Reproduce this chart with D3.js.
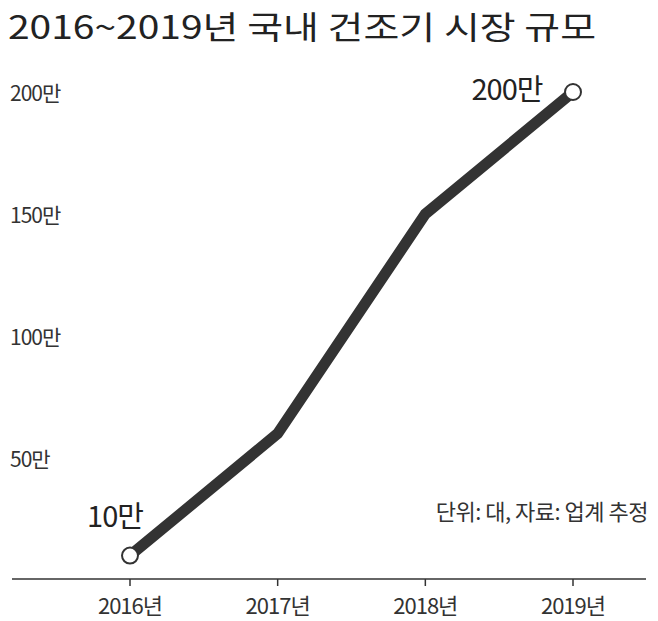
<!DOCTYPE html>
<html><head><meta charset="utf-8">
<script src="https://cdn.jsdelivr.net/npm/d3@7"></script>
<style>body{margin:0;background:#fff}text{font-family:"Noto Sans CJK KR",sans-serif}</style>
</head><body><svg id="c" width="658" height="621"></svg>
<script>
const years=["2016년","2017년","2018년","2019년"];
const values=[10,60,150,200];
const yTicks=[50,100,150,200];
const svg=d3.select("#c");
const x=d3.scalePoint().domain(years).range([130,573]);
const y=d3.scaleLinear().domain([0,200]).range([580,92]);
const ink="#333";
svg.append("text").attr("x",8).attr("y",39).attr("font-size",32).attr("font-weight",400).attr("fill","#222").attr("textLength",588).attr("lengthAdjust","spacingAndGlyphs").text("2016~2019년 국내 건조기 시장 규모");
yTicks.forEach(t=>svg.append("text").attr("x",10).attr("y",y(t)+9).attr("font-size",21).attr("fill",ink).attr("letter-spacing",-1).text(t+"만"));
svg.append("line").attr("x1",12).attr("x2",646).attr("y1",579).attr("y2",579).attr("stroke",ink).attr("stroke-width",1.5);
years.forEach(yr=>{
 svg.append("line").attr("x1",x(yr)).attr("x2",x(yr)).attr("y1",579).attr("y2",586).attr("stroke",ink).attr("stroke-width",1.5);
 svg.append("text").attr("x",x(yr)).attr("y",614).attr("text-anchor","middle").attr("font-size",22).attr("fill",ink).attr("letter-spacing",-1).text(yr);
});
const data=years.map((d,i)=>[d,values[i]]);
svg.append("path").attr("d",d3.line().x(d=>x(d[0])).y(d=>y(d[1]))(data)).attr("fill","none").attr("stroke",ink).attr("stroke-width",11).attr("stroke-linejoin","miter");
[data[0],data[3]].forEach(d=>svg.append("circle").attr("cx",x(d[0])).attr("cy",y(d[1])).attr("r",8).attr("fill","#fff").attr("stroke",ink).attr("stroke-width",2));
svg.append("text").attr("x",115).attr("y",527).attr("text-anchor","middle").attr("font-size",29).attr("font-weight",400).attr("fill","#222").attr("letter-spacing",-1).text(values[0]+"만");
svg.append("text").attr("x",507).attr("y",100).attr("text-anchor","middle").attr("font-size",29).attr("font-weight",400).attr("fill","#222").attr("letter-spacing",-1).text(values[3]+"만");
svg.append("text").attr("x",648).attr("y",520).attr("text-anchor","end").attr("font-size",22).attr("fill",ink).attr("letter-spacing",-0.5).text("단위: 대, 자료: 업계 추정");
</script></body></html>
